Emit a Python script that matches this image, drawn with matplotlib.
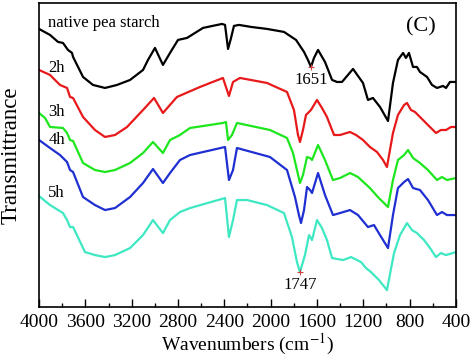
import numpy as np
import matplotlib
matplotlib.use("Agg")
import matplotlib.pyplot as plt
from matplotlib.ticker import MultipleLocator

plt.rcParams["font.family"] = ["Liberation Serif", "DejaVu Serif"]
plt.rcParams["mathtext.fontset"] = "stix"

# FTIR spectra (wavenumber in cm-1, transmittance in arbitrary offset units)
wn_native = [4000, 3905, 3836, 3793, 3750, 3715, 3706, 3620, 3534, 3430, 3327, 3214, 3102, 3059,
             2999, 2930, 2869, 2800, 2722, 2584, 2420, 2394, 2368, 2342, 2317, 2273, 2170, 2032,
             1885, 1781, 1712, 1678, 1652, 1626, 1591, 1531, 1470, 1427, 1384, 1289, 1203, 1160,
             1117, 1056, 987, 944, 901, 857, 832, 806, 771, 737, 711, 650, 607, 564, 512, 486,
             452, 400]
t_native = [278, 272, 265, 264, 257, 254, 250, 230, 222, 219, 222, 227, 237, 247,
            259, 242, 254, 267, 269, 279, 283, 282, 258, 269, 281, 282, 280, 278,
            275, 267, 255, 247, 240, 249, 257, 245, 227, 225, 225, 238, 224, 207,
            209, 200, 186, 224, 247, 254, 249, 254, 240, 240, 235, 230, 222, 219, 221, 219,
            225, 225]

wn_2h = [4000, 3905, 3819, 3758, 3732, 3706, 3620, 3517, 3430, 3344, 3240, 3102, 3007, 2930,
         2809, 2610, 2412, 2360, 2325, 2265, 2032, 1859, 1799, 1764, 1747, 1721, 1695, 1669,
         1652, 1600, 1557, 1514, 1453, 1401, 1315, 1263, 1203, 1143, 1082, 1030, 996, 944,
         901, 848, 823, 789, 754, 711, 642, 573, 530, 486, 443, 400]
t_2h = [237, 232, 222, 219, 210, 209, 190, 177, 170, 172, 180, 197, 209, 194,
        210, 220, 229, 211, 225, 229, 224, 215, 197, 172, 165, 177, 192, 195,
        197, 207, 199, 190, 172, 172, 175, 172, 167, 160, 155, 147, 140, 174,
        192, 202, 204, 197, 195, 190, 182, 174, 177, 177, 180, 180]

wn_3h = [4000, 3948, 3905, 3793, 3758, 3732, 3706, 3620, 3517, 3430, 3344, 3214, 3102, 3016,
         2930, 2869, 2783, 2696, 2412, 2386, 2368, 2334, 2291, 2006, 1859, 1807, 1773, 1747,
         1721, 1686, 1660, 1643, 1591, 1531, 1462, 1401, 1315, 1246, 1143, 1074, 987, 944,
         901, 848, 814, 771, 711, 642, 564, 521, 478, 400]
t_3h = [194, 189, 180, 179, 174, 167, 166, 144, 137, 135, 137, 144, 154, 165,
        154, 167, 172, 179, 184, 185, 167, 172, 184, 177, 169, 154, 137, 124,
        132, 150, 149, 147, 162, 147, 127, 129, 134, 130, 119, 110, 100, 127,
        147, 152, 157, 149, 144, 137, 127, 130, 127, 129]

wn_4h = [4000, 3905, 3819, 3758, 3732, 3706, 3620, 3517, 3430, 3344, 3214, 3102, 3016, 2930,
         2869, 2783, 2696, 2394, 2360, 2325, 2291, 2006, 1859, 1790, 1756, 1738, 1712, 1686,
         1660, 1643, 1591, 1531, 1462, 1401, 1315, 1246, 1160, 1108, 1056, 987, 944, 901,
         848, 814, 771, 711, 642, 564, 521, 478, 400]
t_4h = [167, 159, 152, 145, 137, 135, 110, 102, 97, 99, 110, 124, 138, 124,
        134, 147, 152, 160, 127, 137, 159, 150, 137, 110, 92, 84, 97, 120,
        117, 114, 134, 112, 92, 94, 97, 92, 80, 82, 72, 59, 92, 119,
        125, 128, 119, 117, 107, 92, 95, 92, 92]

wn_5h = [4000, 3905, 3793, 3758, 3732, 3706, 3603, 3517, 3430, 3344, 3214, 3102, 3016, 2930,
         2869, 2783, 2696, 2394, 2360, 2325, 2291, 2204, 2032, 1885, 1816, 1773, 1747, 1704,
         1669, 1643, 1600, 1557, 1514, 1470, 1375, 1306, 1220, 1177, 1134, 1065, 996, 935,
         883, 823, 780, 737, 676, 624, 573, 530, 486, 400]
t_5h = [111, 102, 94, 87, 80, 80, 55, 52, 50, 52, 59, 72, 87, 74,
        87, 95, 99, 109, 70, 87, 107, 107, 102, 94, 70, 45, 35, 52,
        72, 67, 87, 79, 67, 49, 47, 50, 45, 39, 35, 27, 17, 54,
        72, 84, 77, 74, 67, 59, 50, 54, 52, 55]

series = [
    (wn_native, t_native, "#000000", "native pea starch", 284),
    (wn_2h, t_2h, "#e8191a", "2h", 239),
    (wn_3h, t_3h, "#1ee61e", "3h", 195),
    (wn_4h, t_4h, "#1f2fd1", "4h", 167),
    (wn_5h, t_5h, "#3ee8c2", "5h", 114),
]

fig = plt.figure(figsize=(4.74, 3.63), dpi=100)
ax = fig.add_axes([0.0823, 0.154, 0.8797, 0.838])

for wn, t, color, label, ly in series:
    ax.plot(wn, t, color=color, lw=1.6, solid_joinstyle="round")
    ax.text(3920, ly, label, fontsize=12, ha="left", va="center")

# band markers
ax.plot([1651], [240], "+", color="#d04040", ms=4, mew=0.8)
ax.text(1652, 227, "1651", fontsize=12, ha="center", va="center")
ax.plot([1747], [35], "+", color="#d04040", ms=4, mew=0.8)
ax.text(1747, 22, "1747", fontsize=12, ha="center", va="center")
ax.text(700, 280, "(C)", fontsize=16, ha="center", va="center")

ax.set_xlim(4000, 400)
ax.set_ylim(0, 304)
ax.set_yticks([])
ax.xaxis.set_major_locator(MultipleLocator(400))
ax.xaxis.set_minor_locator(MultipleLocator(200))
ax.tick_params(axis="x", which="both", direction="in", top=False, labelsize=14, pad=5)
ax.tick_params(axis="x", which="major", length=6, width=1)
ax.tick_params(axis="x", which="minor", length=3, width=1)
for s in ax.spines.values():
    s.set_linewidth(1.2)

ax.set_xlabel("Wavenumbers (cm$^{-1}$)", fontsize=14, labelpad=1)
ax.set_ylabel("Transmittrance", fontsize=16.5)
ax.yaxis.set_label_coords(-0.042, 0.5)

fig.savefig("out.png", dpi=100)
